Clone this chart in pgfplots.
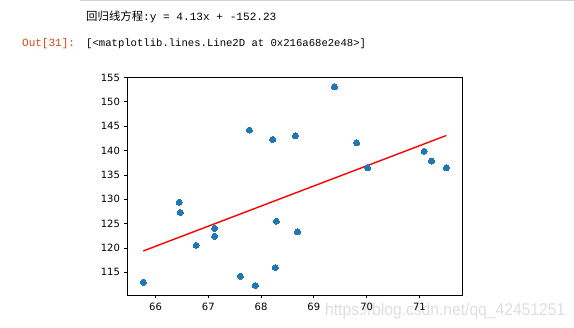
\documentclass[border=0pt]{standalone}
\usepackage{pgfplots}
\pgfplotsset{compat=1.18}
\usepackage{fontspec}
\setmainfont{DejaVu Sans}
\newfontfamily\cjk{Noto Sans CJK SC}
\newfontfamily\mono{Liberation Mono}
\newfontfamily\wm{Liberation Sans}
\definecolor{mplblue}{RGB}{31,119,180}
\definecolor{outred}{RGB}{216,67,21}
\begin{document}
\begin{tikzpicture}[x=1pt,y=1pt]
\useasboundingbox (0,0) rectangle (574,328);
\draw[line width=1.5pt, color={rgb,255:red,210;green,210;blue,210}] (80,327.4) -- (574,327.4);
\node[anchor=base west, inner sep=0] at (86,307.5) {{\cjk\fontsize{11.4}{13}\selectfont 回归线方程}{\mono\fontsize{11.1}{13}\selectfont :y = 4.13x + -152.23}};
\node[anchor=base west, inner sep=0, text=outred] at (22,281) {\mono\fontsize{11}{13}\selectfont Out[31]:};
\node[anchor=base west, inner sep=0] at (86,281) {\mono\fontsize{10.6}{13}\selectfont [<matplotlib.lines.Line2D at 0x216a68e2e48>]};
\begin{axis}[
  at={(127pt,33pt)}, anchor=south west,
  width=335.7pt, height=217.7pt, scale only axis,
  xmin=65.46, xmax=71.82, ymin=110.35, ymax=155.05,
  xtick={66,67,68,69,70,71},
  ytick={115,120,125,130,135,140,145,150,155},
  tick align=outside, tick pos=left,
  major tick length=3.5pt,
  axis line style={line width=0.8pt},
  every tick/.style={black, line width=0.8pt},
  tick label style={font=\fontsize{10}{12}\selectfont},
  /pgf/number format/assume math mode=true,
  xticklabel style={yshift=-1pt},
  clip=false,
]
\addplot[only marks, mark=*, mark size=3pt, mark options={fill=mplblue, draw=mplblue, line width=0pt}] coordinates {
(65.77,112.96) (66.45,129.4) (66.47,127.3) (66.77,120.55) (67.12,124.05)
(67.12,122.4) (67.61,114.2) (67.89,112.3) (68.29,125.5) (68.27,116.0)
(68.69,123.3) (67.78,144.2) (68.22,142.3) (68.65,143.0) (69.39,153.06)
(69.81,141.56) (70.02,136.43) (71.09,139.86) (71.23,137.86) (71.51,136.43)
};
\addplot[red, line width=1.4pt] coordinates {(65.77,119.40) (71.51,143.10)};
\end{axis}
\node[anchor=base west, inner sep=0, text=black, opacity=0.13] at (325,12) {\scalebox{0.92}[1]{\wm\fontsize{17}{20}\selectfont https://blog.csdn.net/qq\_42451251}};
\end{tikzpicture}
\end{document}
